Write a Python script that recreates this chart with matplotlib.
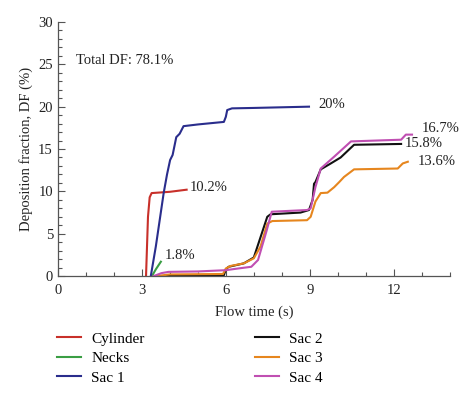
import matplotlib
matplotlib.use("Agg")
import matplotlib.pyplot as plt
from matplotlib.ticker import MultipleLocator

plt.rcParams['font.family'] = ['Liberation Serif', 'DejaVu Serif']

# Data
cyl_t = [3.15, 3.18, 3.22, 3.28, 3.35, 4.0, 4.6]
cyl_v = [0.0, 3.0, 7.0, 9.3, 9.8, 9.95, 10.2]

neck_t = [3.36, 3.5, 3.68]
neck_v = [0.0, 0.8, 1.7]

sac1_t = [3.32, 3.5, 3.78, 3.9, 4.01, 4.1, 4.23, 4.35, 4.49, 5.0, 5.93, 6.0, 6.05, 6.22, 7.0, 8.97]
sac1_v = [0.0, 3.5, 9.8, 12.0, 13.7, 14.3, 16.4, 16.8, 17.7, 17.9, 18.2, 18.8, 19.6, 19.8, 19.85, 20.0]

sac2_t = [3.5, 5.0, 5.93, 6.0, 6.1, 6.64, 7.0, 7.24, 7.48, 7.6, 8.67, 8.97, 9.1, 9.15, 9.2, 9.39, 9.75, 10.1, 10.58, 12.26]
sac2_v = [0.0, 0.05, 0.1, 0.8, 1.1, 1.5, 2.2, 4.6, 7.0, 7.3, 7.5, 7.8, 9.0, 10.9, 11.1, 12.6, 13.3, 14.0, 15.5, 15.6]

sac3_t = [3.5, 4.0, 5.9, 6.0, 6.17, 6.64, 7.0, 7.24, 7.48, 7.66, 8.9, 9.03, 9.2, 9.39, 9.63, 9.87, 10.05, 10.22, 10.58, 12.14, 12.32, 12.5]
sac3_v = [0.0, 0.2, 0.25, 0.9, 1.2, 1.5, 2.1, 3.5, 6.2, 6.5, 6.6, 7.0, 8.8, 9.8, 9.85, 10.5, 11.1, 11.7, 12.6, 12.7, 13.3, 13.5]

sac4_t = [3.42, 3.7, 3.95, 5.0, 6.0, 6.44, 6.91, 7.15, 7.46, 7.64, 8.9, 9.03, 9.2, 9.39, 9.87, 10.47, 12.26, 12.43, 12.65]
sac4_v = [0.0, 0.35, 0.5, 0.55, 0.7, 0.9, 1.1, 1.9, 5.4, 7.6, 7.8, 8.0, 10.5, 12.7, 14.1, 15.9, 16.1, 16.7, 16.7]

series_names = ["Cylinder", "Necks", "Sac 1", "Sac 2", "Sac 3", "Sac 4"]
series_colors = ["#c8302a", "#3a9e44", "#2a2d8c", "#111111", "#e6861e", "#c04fb2"]
end_labels = ["10.2%", "1.8%", "20%", "15.8%", "13.6%", "16.7%"]
label_pos = [(4.72, 10.4), (3.8, 2.4), (9.3, 20.2), (12.4, 15.6), (12.85, 13.5), (13.0, 17.4)]

fig = plt.figure(figsize=(4.74, 3.99), dpi=100)
ax = fig.add_axes([0.122, 0.308, 0.827, 0.637])

data = [(cyl_t, cyl_v), (neck_t, neck_v), (sac1_t, sac1_v),
        (sac2_t, sac2_v), (sac3_t, sac3_v), (sac4_t, sac4_v)]
handles = []
for (t, v), name, c in zip(data, series_names, series_colors):
    h, = ax.plot(t, v, color=c, lw=1.5, label=name)
    handles.append(h)

for txt, (x, y) in zip(end_labels, label_pos):
    ax.text(x, y, txt, fontsize=10.5, va='center', ha='left', color='#222222')

ax.text(0.65, 25.5, "Total DF: 78.1%", fontsize=10.5, va='center', ha='left', color='#222222')

ax.set_xlim(0, 14)
ax.set_ylim(0, 30)
ax.set_xticks([0, 3, 6, 9, 12])
ax.set_yticks([0, 5, 10, 15, 20, 25, 30])
ax.xaxis.set_minor_locator(MultipleLocator(1))
ax.yaxis.set_minor_locator(MultipleLocator(1))
ax.tick_params(which='both', direction='in', colors='#555555', labelcolor='#222222', labelsize=10.5)
ax.tick_params(which='major', length=5, width=0.8)
ax.tick_params(which='minor', length=3, width=0.8)
ax.tick_params(axis='x', pad=6)
for s in ['top', 'right']:
    ax.spines[s].set_visible(False)
for s in ['left', 'bottom']:
    ax.spines[s].set_color('#555555')
    ax.spines[s].set_linewidth(0.9)

ax.set_xlabel("Flow time (s)", fontsize=10.5, color='#222222', labelpad=6)
ax.set_ylabel("Deposition fraction, DF (%)", fontsize=10.5, color='#222222', labelpad=4)

fig.legend(handles, series_names,
           loc='upper left', bbox_to_anchor=(0.12, 0.168), ncol=2,
           frameon=False, fontsize=11, handlelength=1.6, handletextpad=0.65,
           columnspacing=7.2, labelspacing=0.38, borderaxespad=0, borderpad=0)

fig.savefig("out.png", dpi=100)
